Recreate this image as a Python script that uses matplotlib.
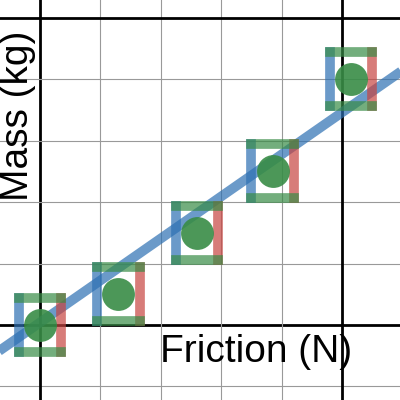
import matplotlib
matplotlib.use("Agg")
import matplotlib.pyplot as plt
import numpy as np

xs = [0.0, 1.3, 2.6, 3.85, 5.15]
ys = [0.0, 0.5, 1.5, 2.5, 4.0]
slope, intercept = 0.684, 0.04
dx, dy = 0.35, 0.44

fig = plt.figure(figsize=(4, 4), dpi=100)
ax = fig.add_axes([0, 0, 1, 1])
ax.set_xlim(-0.66, 5.96)
ax.set_ylim(-1.22, 5.29)
ax.axis('off')
for g in range(-1, 7):
    lw = 2 if g in (0, 5) else 0.8
    c = 'black' if g in (0, 5) else '#999999'
    ax.axvline(g, color=c, lw=lw, zorder=0)
    ax.axhline(g, color=c, lw=lw, zorder=0)

xl = np.array([-1, 7])
ax.plot(xl, slope * xl + intercept, color='#2d70b3', lw=7, alpha=0.7, solid_capstyle='butt', zorder=2)
for x, y in zip(xs, ys):
    ax.plot([x - dx, x - dx], [y - dy, y + dy], color='#2d70b3', lw=7, alpha=0.7, zorder=3)
    ax.plot([x + dx, x + dx], [y - dy, y + dy], color='#c74440', lw=7, alpha=0.7, zorder=3)
    ax.plot([x - dx, x + dx], [y + dy, y + dy], color='#388c46', lw=7, alpha=0.7, zorder=3)
    ax.plot([x - dx, x + dx], [y - dy, y - dy], color='#388c46', lw=7, alpha=0.7, zorder=3)
ax.scatter(xs, ys, s=560, color='#388c46', alpha=0.9, zorder=4, linewidths=0)

fig.text(0.64, 0.12, 'Friction (N)', fontsize=28, ha='center', va='center', family='Liberation Sans')
fig.text(0.045, 0.71, 'Mass (kg)', fontsize=28, ha='center', va='center', rotation=90, family='Liberation Sans')
fig.savefig('out.png', dpi=100)
